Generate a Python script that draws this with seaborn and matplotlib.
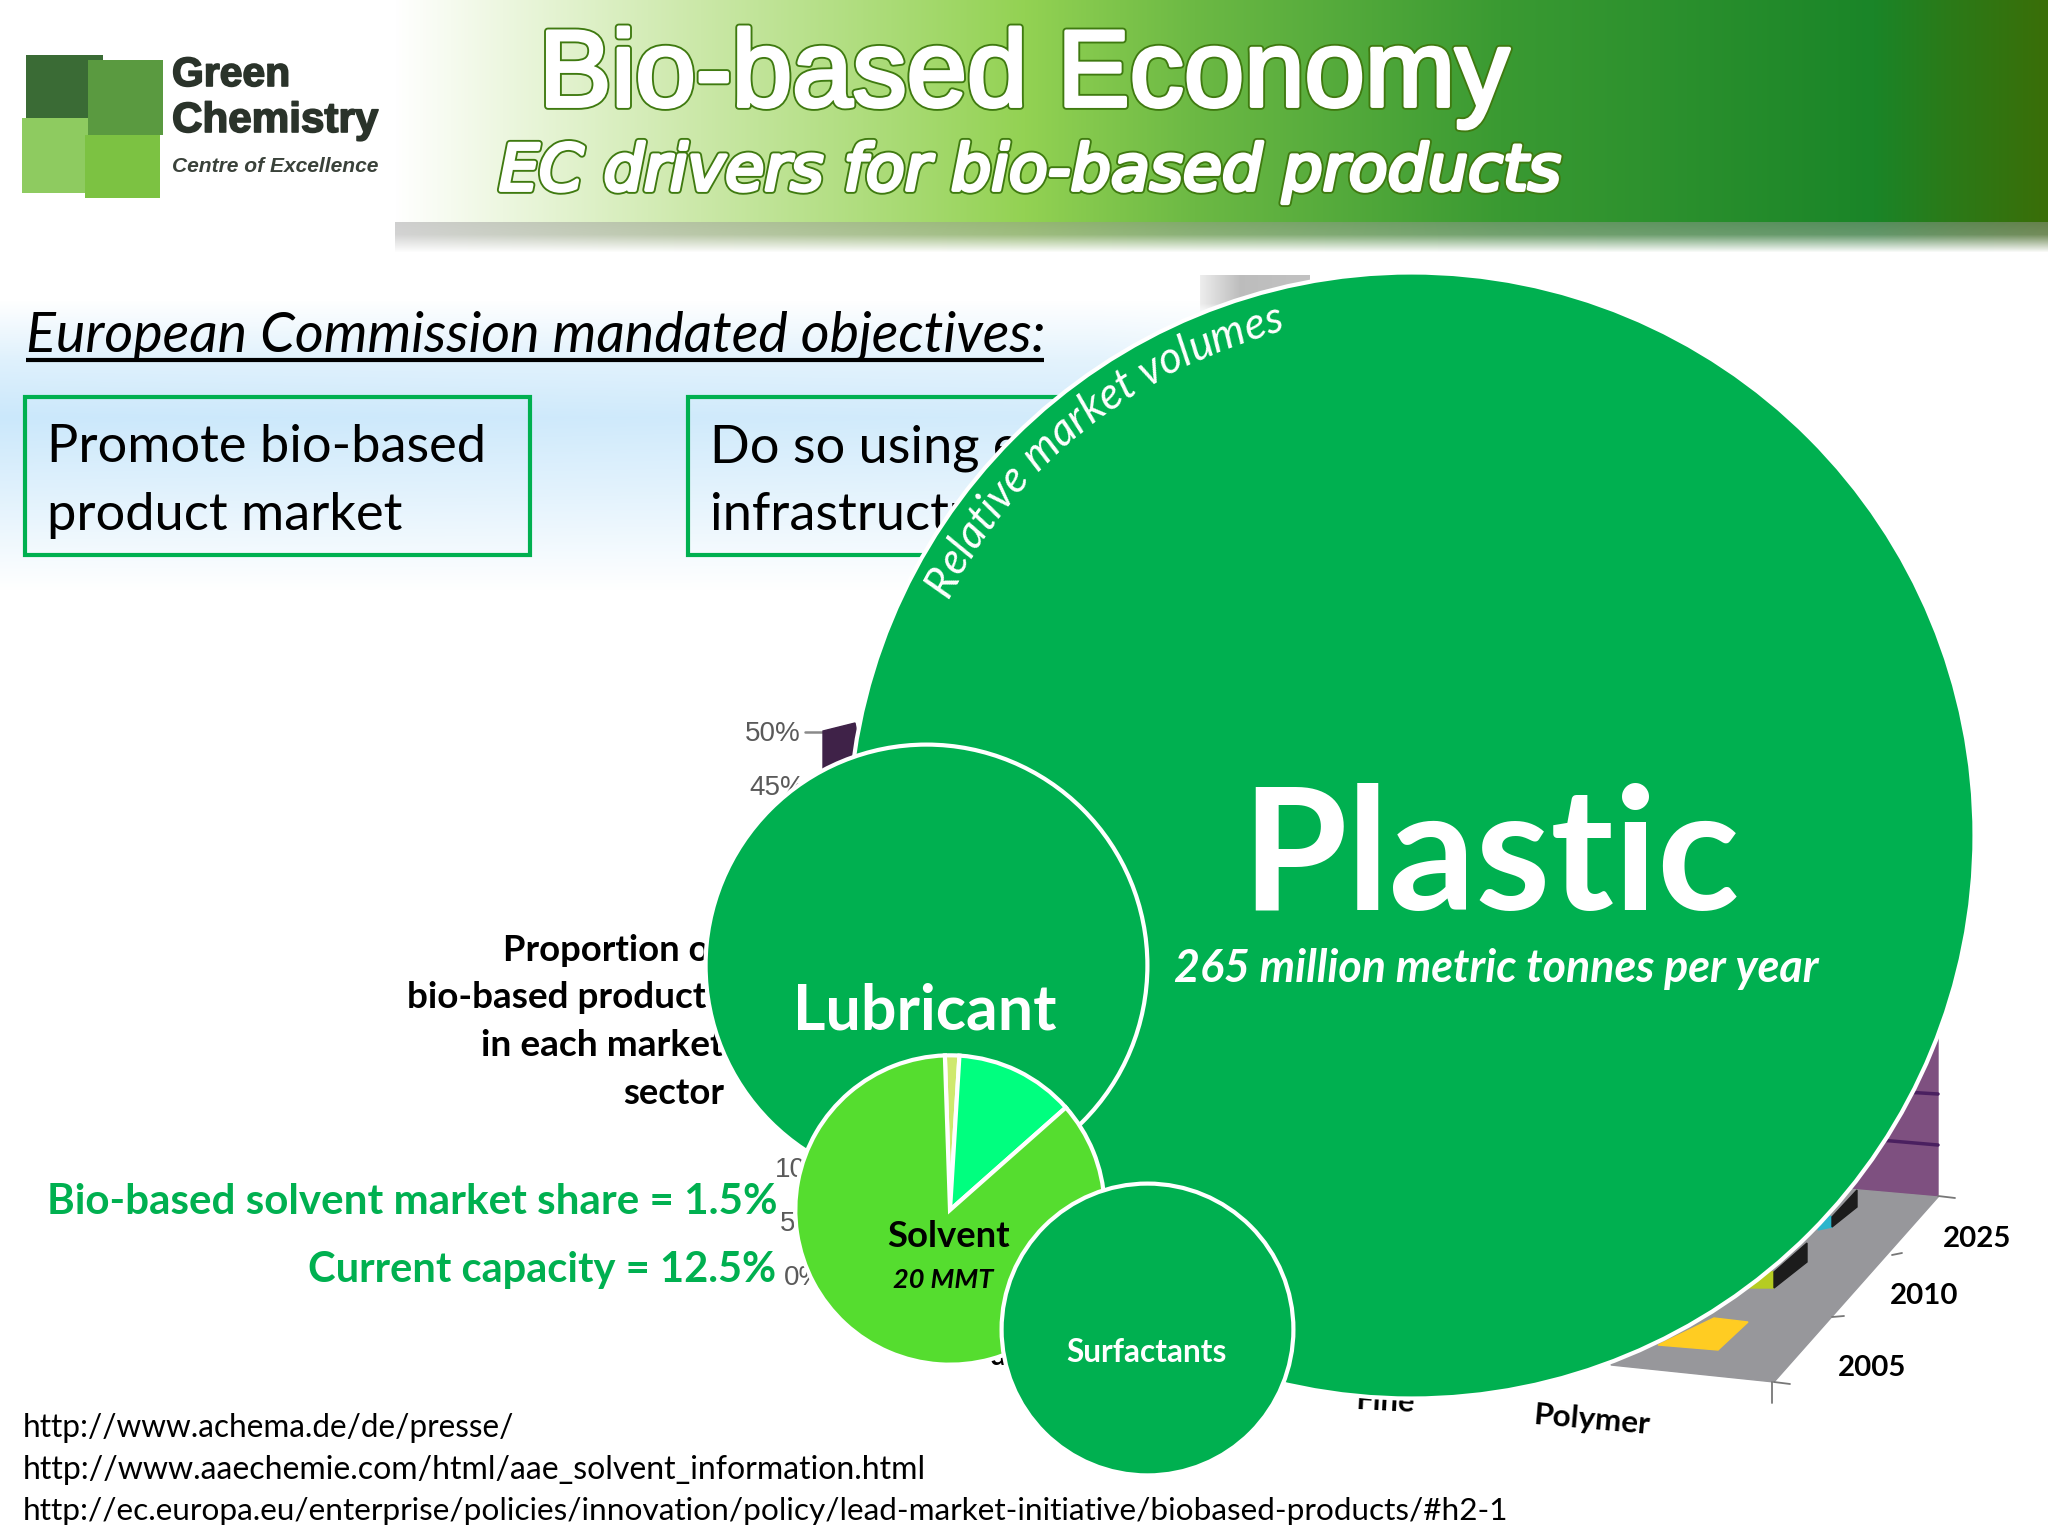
import numpy as np
import pandas as pd
import seaborn as sns
import matplotlib
matplotlib.use("Agg")
import matplotlib.pyplot as plt
import matplotlib.patheffects as pe
from matplotlib.patches import Rectangle

# ---------- data ----------
market_names = ["Plastic", "Lubricant", "Solvent", "Surfactants"]
market_volumes = [265, 40.8, 20, 17.8]        # bubble areas, scaled to Plastic = 265 MMT
solvent_shares = [1.5, 12.5, 86.0]            # bio-based, capacity, remainder (%)
axis_percent_labels = ["50%", "45%", "10", "5", "0%"]
year_labels = ["2025", "2010", "2005"]
sector_labels = ["Polymer", "Fine", "d"]
url_lines = [
    "http://www.achema.de/de/presse/",
    "http://www.aaechemie.com/html/aae_solvent_information.html",
    "http://ec.europa.eu/enterprise/policies/innovation/policy/lead-market-initiative/biobased-products/#h2-1",
]
proportion_lines = ["Proportion of", "bio-based products", "in each market", "sector"]

# ---------- styles ----------
GREEN = "#00b050"
sns.set_theme(style="white")
plt.rcParams["font.family"] = ["Lato", "DejaVu Sans"]
W, H = 2048, 1536
fig = plt.figure(figsize=(W / 100, H / 100), dpi=100, facecolor="white")
ax = fig.add_axes([0, 0, 1, 1])
renderer = fig.canvas.get_renderer()


def hexrgb(c):
    return np.array(matplotlib.colors.to_rgb(c))


# ---------- slide background ----------
xs, ys = np.arange(W), np.arange(H)
bg = np.ones((H, W, 3))
blue_v = np.interp(ys, [300, 360, 417, 490, 590], [0, 0.62, 1, 0.6, 0])
blue_h = np.interp(xs, [0, 1100, 1600], [1, 0.85, 0])
a = np.outer(blue_v, blue_h)[..., None]
bg = bg * (1 - a) + hexrgb("#cbe8fb") * a

stops_x = [395, 450, 700, 1024, 1194, 1500, 1873, 1950, 2047]
stops_c = ["#ffffff", "#f6fbef", "#cbe8a8", "#93d253", "#6cb944", "#3a9a32",
           "#1a8528", "#2b7a18", "#3a6e08"]
rows = np.stack([np.interp(xs, stops_x, [hexrgb(c)[i] for c in stops_c]) for i in range(3)], axis=1)
left_mask = (xs >= 395)[..., None]
rows_full = rows * left_mask + (1 - left_mask)
bg[:222] = rows_full
shade = np.interp(np.arange(222, 252), [222, 234, 252], [0.72, 0.66, 0.0])
for j, y in enumerate(range(222, 252)):
    t = shade[j]
    dark = rows * 0.74
    bg[y] = (dark * t + (1 - t)) * left_mask + (1 - left_mask)
ax.imshow(bg, extent=(0, W, H, 0), aspect="auto", zorder=0, interpolation="bilinear")

# grey corner of the chart picture behind the big circle
grey = np.ones((38, 110, 4))
grey[..., :3] = np.interp(np.arange(110), [0, 40, 110], [0.93, 0.74, 0.76])[None, :, None]
grey[..., 3] = np.interp(np.arange(38), [0, 28, 38], [1, 1, 0])[:, None]
ax.imshow(grey, extent=(1200, 1310, 313, 275), aspect="auto", zorder=1)


def fit(s, x0, x1, y, rotation=0, **kw):
    """Place text on a baseline, sized so that it spans x0..x1 pixels."""
    zorder = kw.pop("zorder", 10)
    t = ax.text(x0, y, s, fontsize=40, va="baseline", ha="left", zorder=zorder, **kw)
    width = t.get_window_extent(renderer).width
    t.set_fontsize(40 * (x1 - x0) / width)
    if rotation:
        t.set_rotation(rotation)
        t.set_rotation_mode("anchor")
    return t


# ---------- logo ----------
for (x, y, w, h, c) in [(22, 118, 66, 75, "#8ecb60"), (85, 135, 75, 63, "#7cc242"),
                        (26, 55, 77, 63, "#3a6b35"), (88, 60, 75, 75, "#5a9a40")]:
    ax.add_patch(Rectangle((x, y), w, h, fc=c, ec="none", zorder=3))
heavy = [pe.withStroke(linewidth=1.2, foreground="#2a332a")]
logo_kw = dict(family="Liberation Sans", weight="bold", color="#2a332a", path_effects=heavy)
fit("Green", 172, 290, 86, **logo_kw)
fit("Chemistry", 172, 378, 132, **logo_kw)
fit("Centre of Excellence", 172, 378, 172, family="Liberation Sans", weight="bold",
    style="italic", color="#3a423a")

# ---------- title ----------
outline = [pe.Stroke(linewidth=5.5, foreground="#3f7a10"),
           pe.Stroke(linewidth=2.8, foreground="white"), pe.Normal()]
fit("Bio-based Economy", 539, 1509, 106, family="Liberation Sans", color="white",
    path_effects=outline)
fit("EC drivers for bio-based products", 499, 1560, 190, family="DejaVu Sans", style="oblique",
    color="white", path_effects=outline)

# ---------- objectives ----------
fit("European Commission mandated objectives:", 26, 1044, 352, style="italic", color="black")
ax.plot([26, 1044], [360, 360], color="black", lw=3, zorder=3, solid_capstyle="butt")
for x0, x1 in [(25, 530), (688, 1193)]:
    ax.add_patch(Rectangle((x0, 397), x1 - x0, 158, fc="none", ec=GREEN, lw=3, zorder=3))
box_text = fit("Promote bio-based", 47, 486, 462, color="black", zorder=4)
box_fs = box_text.get_fontsize()
ax.text(47, 530, "product market", fontsize=box_fs, color="black", zorder=4, va="baseline")
ax.text(710, 462, "Do so using existing", fontsize=box_fs, color="black", zorder=4, va="baseline")
ax.text(710, 530, "infrastructure", fontsize=box_fs, color="black", zorder=4, va="baseline")

# ---------- proportion and share texts ----------
bold_black = dict(weight="bold", color="black", zorder=2)
fit(proportion_lines[0], 503, 722, 961, **bold_black)
fit(proportion_lines[1], 407, 723, 1008, **bold_black)
fit(proportion_lines[2], 481, 723, 1056, **bold_black)
fit(proportion_lines[3], 623, 724, 1104, **bold_black)
fit("Bio-based solvent market share = 1.5%", 47, 776, 1214, weight="bold", color=GREEN, zorder=4)
fit("Current capacity = 12.5%", 308, 776, 1282, weight="bold", color=GREEN, zorder=4)

# ---------- fragments of the 3D chart behind the circles ----------
for s, x, y in zip(axis_percent_labels, [745, 749, 775, 780, 784], [741, 795, 1177, 1231, 1285]):
    ax.text(x, y, s, family="Liberation Sans", fontsize=20,
            color="#5a5a5a", va="baseline", ha="left", zorder=2)
ax.plot([805, 825], [732, 732], color="#8a8a8a", lw=1.8, zorder=2)
ax.fill([823, 855, 870, 823], [731, 723, 800, 800], color="#3f2248", zorder=2)
ax.fill([1938, 1938, 1700, 1700], [1000, 1197, 1176, 1000], color="#7e5080", zorder=2)
ax.plot([1905, 1938], [1092, 1094], color="#4a2060", lw=2.5, zorder=3)
ax.plot([1880, 1938], [1140, 1145], color="#4a2060", lw=2.5, zorder=3)
ax.fill([1938, 1774, 1611, 1700], [1197, 1382, 1365, 1176], color="#97979b", zorder=3)
ax.fill([1714, 1748, 1718, 1658], [1318, 1322, 1350, 1345], color="#ffcc22", zorder=4)
ax.fill([1745, 1774, 1774, 1740], [1270, 1272, 1288, 1288], color="#b5cc22", zorder=4)
ax.fill([1774, 1807, 1807, 1774], [1272, 1243, 1262, 1288], color="#1c1c1c", zorder=4)
ax.fill([1825, 1832, 1832, 1818], [1215, 1217, 1227, 1230], color="#2bb5cc", zorder=4)
ax.fill([1832, 1857, 1857, 1832], [1217, 1190, 1207, 1227], color="#1c1c1c", zorder=4)
for (x0, y0, x1, y1) in [(1938, 1196, 1955, 1198), (1892, 1255, 1902, 1253),
                         (1832, 1317, 1844, 1316), (1774, 1382, 1790, 1384),
                         (1772, 1382, 1772, 1403)]:
    ax.plot([x0, x1], [y0, y1], color="#777777", lw=1.3, zorder=4)
bb = dict(weight="bold", color="black", zorder=4)
fit(year_labels[0], 1943, 2011, 1247, **bb)
fit(year_labels[1], 1890, 1958, 1304, **bb)
fit(year_labels[2], 1838, 1906, 1376, **bb)
fit(sector_labels[0], 1533, 1650, 1424, rotation=-5, **bb)
fit(sector_labels[1], 1356, 1415, 1409, rotation=-3, weight="bold", color="black", zorder=2)
fit(sector_labels[2], 990, 1006, 1365, weight="bold", color="black", zorder=2)

# ---------- bubbles ----------
bubble_x = [1411, 926, 950, 1147]
bubble_y = [835, 965, 1210, 1329]
R_MAX = 563                      # pixel radius of the largest bubble
S_MAX = (2 * R_MAX * 72 / 100) ** 2
bubbles = pd.DataFrame({"name": market_names, "volume": market_volumes,
                        "x": bubble_x, "y": bubble_y})
radius = R_MAX * np.sqrt(bubbles["volume"] / max(market_volumes))
for names, z in [(["Plastic"], 5), (["Lubricant"], 6), (["Surfactants"], 8)]:
    sns.scatterplot(data=bubbles[bubbles["name"].isin(names)], x="x", y="y", size="volume",
                    sizes=(0, S_MAX), size_norm=(0, max(market_volumes)), color=GREEN,
                    edgecolor="white", linewidth=3, legend=False, ax=ax, zorder=z, clip_on=False)

wedges, _ = ax.pie(solvent_shares, colors=["#cfe96e", "#00ff7f", "#55dd2f"],
                   startangle=-91.9, counterclock=True,
                   center=(bubble_x[2], bubble_y[2]), radius=radius[2],
                   wedgeprops=dict(edgecolor="white", linewidth=3, zorder=7))

# ---------- bubble labels ----------
fit("Plastic", 1241, 1739, 910, weight="bold", color="white")
fit("265 million metric tonnes per year", 1174, 1818, 982, weight="bold", style="italic", color="white")
fit("Lubricant", 793, 1056, 1030, weight="bold", color="white")
fit("Solvent", 887, 1010, 1247, weight="bold", color="black")
fit("20 MMT", 893, 993, 1288, weight="bold", style="italic", color="black")
fit("Surfactants", 1066, 1227, 1362, weight="bold", color="white")

# curved caption along the big circle
caption = "Relative market volumes"
CX, CY, RB = bubble_x[0], bubble_y[0], 520
a0, a1 = np.radians(-63), np.radians(-14)


def adv(s, fs):
    t = ax.text(0, 0, s + "|", fontsize=fs, style="italic")
    u = ax.text(0, 0, "|", fontsize=fs, style="italic")
    w = t.get_window_extent(renderer).width - u.get_window_extent(renderer).width
    t.remove()
    u.remove()
    return w


fs = 40 * RB * (a1 - a0) / adv(caption, 40)
total = adv(caption, fs)
for i, ch in enumerate(caption):
    mid = adv(caption[:i], fs) + adv(ch, fs) / 2
    ang = a0 + (a1 - a0) * mid / total
    ax.text(CX + RB * np.sin(ang), CY - RB * np.cos(ang), ch, fontsize=fs, style="italic",
            color="white", ha="center", va="baseline", rotation=-np.degrees(ang),
            rotation_mode="anchor", zorder=10)

# ---------- sources ----------
fit(url_lines[0], 23, 514, 1437, color="black", zorder=4)
fit(url_lines[1], 23, 926, 1479, color="black", zorder=4)
fit(url_lines[2], 23, 1503, 1520, color="black", zorder=4)

ax.set_xlim(0, W)
ax.set_ylim(H, 0)
ax.set_aspect("auto")
ax.set_axis_off()
fig.savefig("out.png", dpi=100)
